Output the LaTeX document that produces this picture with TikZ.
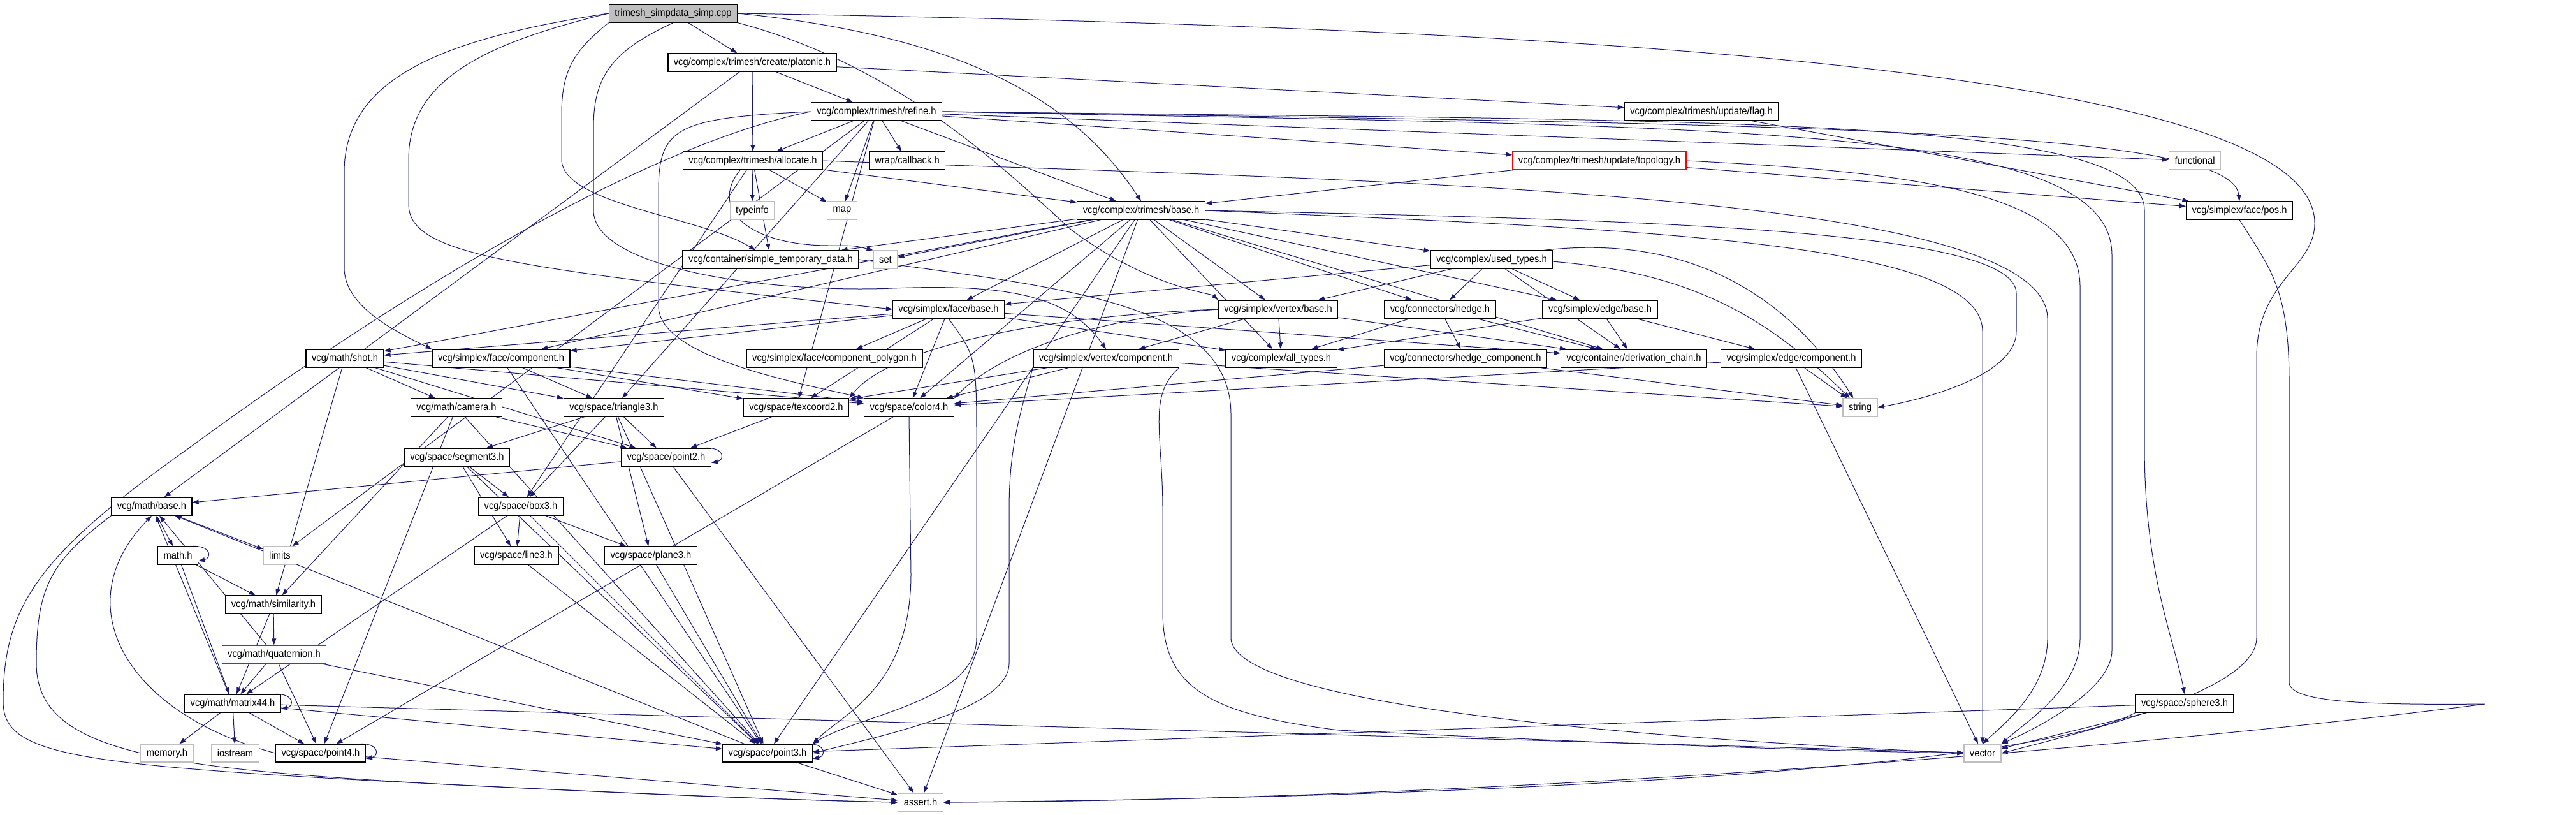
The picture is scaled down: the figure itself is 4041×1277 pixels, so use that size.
\documentclass[tikz,border=0pt]{standalone}
\usepackage{fontspec}
\newfontfamily\dotfont{Liberation Sans}[FakeStretch=0.92]
\usetikzlibrary{arrows.meta,backgrounds}
\definecolor{edgeblue}{HTML}{191970}
\definecolor{sysgray}{HTML}{BFBFBF}
\tikzset{
  hdr/.style={draw=black, line width=1.3pt, fill=white, font=\dotfont\fontsize{16}{18}\selectfont,
    minimum height=28pt, inner xsep=9pt, inner ysep=2pt},
  sys/.style={hdr, draw=sysgray},
  trunc/.style={hdr, draw=red},
  root/.style={hdr, fill=sysgray},
  incl/.style={draw=edgeblue, line width=1pt, -{Triangle[length=10pt,width=7pt]}}
}
\begin{document}
\begin{tikzpicture}[x=1pt,y=-1pt]
\useasboundingbox (0,0) rectangle (4041,1277);
% headers, one rank per row
\node[root] (cpp) at (1056,21) {trimesh\_simpdata\_simp.cpp};
\node[hdr] (platonic) at (1180,98) {vcg/complex/trimesh/create/platonic.h};
\node[hdr] (refine) at (1375,175) {vcg/complex/trimesh/refine.h};
\node[hdr] (flag) at (2669,175) {vcg/complex/trimesh/update/flag.h};
\node[hdr] (allocate) at (1181,252) {vcg/complex/trimesh/allocate.h};
\node[hdr] (callback) at (1423,252) {wrap/callback.h};
\node[trunc] (topology) at (2509,252) {vcg/complex/trimesh/update/topology.h};
\node[sys] (functional) at (3443,252) {functional};
\node[sys] (typeinfo) at (1180,330) {typeinfo};
\node[sys] (map) at (1321,330) {map};
\node[hdr] (tbase) at (1790,330) {vcg/complex/trimesh/base.h};
\node[hdr] (pos) at (3513,330) {vcg/simplex/face/pos.h};
\node[hdr] (stdata) at (1209,407) {vcg/container/simple\_temporary\_data.h};
\node[sys] (set) at (1389,407) {set};
\node[hdr] (used) at (2340,407) {vcg/complex/used\_types.h};
\node[hdr] (fbase) at (1488,485) {vcg/simplex/face/base.h};
\node[hdr] (vbase) at (2005,485) {vcg/simplex/vertex/base.h};
\node[hdr] (hedge) at (2259,485) {vcg/connectors/hedge.h};
\node[hdr] (ebase) at (2510,485) {vcg/simplex/edge/base.h};
\node[hdr] (shot) at (541,562) {vcg/math/shot.h};
\node[hdr] (fcomp) at (786,562) {vcg/simplex/face/component.h};
\node[hdr] (fpoly) at (1309,562) {vcg/simplex/face/component\_polygon.h};
\node[hdr] (vcomp) at (1735,562) {vcg/simplex/vertex/component.h};
\node[hdr] (alltypes) at (2010,562) {vcg/complex/all\_types.h};
\node[hdr] (hcomp) at (2299,562) {vcg/connectors/hedge\_component.h};
\node[hdr] (dchain) at (2563,562) {vcg/container/derivation\_chain.h};
\node[hdr] (ecomp) at (2810,562) {vcg/simplex/edge/component.h};
\node[hdr] (camera) at (716,639) {vcg/math/camera.h};
\node[hdr] (triangle) at (963,639) {vcg/space/triangle3.h};
\node[hdr] (texcoord) at (1249,639) {vcg/space/texcoord2.h};
\node[hdr] (color) at (1426,639) {vcg/space/color4.h};
\node[sys] (string) at (2918,639) {string};
\node[hdr] (segment) at (717,717) {vcg/space/segment3.h};
\node[hdr] (point2) at (1045,717) {vcg/space/point2.h};
\node[hdr] (mbase) at (238,794) {vcg/math/base.h};
\node[hdr] (box) at (817,794) {vcg/space/box3.h};
\node[hdr] (mathh) at (279,871) {math.h};
\node[sys] (limits) at (439,871) {limits};
\node[hdr] (line) at (810,871) {vcg/space/line3.h};
\node[hdr] (plane) at (1021,871) {vcg/space/plane3.h};
\node[hdr] (similarity) at (429,948) {vcg/math/similarity.h};
\node[trunc] (quaternion) at (430,1026) {vcg/math/quaternion.h};
\node[hdr] (matrix) at (365,1103) {vcg/math/matrix44.h};
\node[sys] (memory) at (262,1181) {memory.h};
\node[sys] (iostream) at (369,1181) {iostream};
\node[hdr] (point4) at (503,1181) {vcg/space/point4.h};
\node[hdr] (point3) at (1204,1181) {vcg/space/point3.h};
\node[sys] (assert) at (1444,1258) {assert.h};
\node[hdr] (sphere) at (3427,1103) {vcg/space/sphere3.h};
\node[sys] (vector) at (3110,1181) {vector};
\begin{pgfonlayer}{background}
\fill[white] (0,0) rectangle (4041,1277);
% short includes
\foreach \s/\t in {cpp/platonic,
  platonic/refine, platonic/allocate, platonic/flag, platonic/mbase,
  refine/allocate, refine/callback, refine/map, refine/tbase, refine/topology, refine/functional,
  refine/triangle, refine/texcoord, refine/limits,
  allocate/typeinfo, allocate/map, allocate/stdata, allocate/tbase, allocate/box,
  flag/pos, topology/tbase, topology/pos,
  tbase/stdata, tbase/set, tbase/used, tbase/fbase, tbase/vbase, tbase/hedge, tbase/ebase, tbase/shot,
  tbase/dchain, tbase/alltypes, tbase/color, tbase/fcomp, tbase/point3, tbase/assert,
  used/fbase, used/vbase, used/hedge, used/ebase, used/dchain,
  fbase/fcomp, fbase/fpoly, fbase/alltypes, fbase/dchain, fbase/texcoord, fbase/color, fbase/shot,
  vbase/vcomp, vbase/alltypes, vbase/dchain,
  hedge/alltypes, hedge/hcomp, hedge/dchain,
  ebase/alltypes, ebase/dchain, ebase/ecomp,
  vcomp/texcoord, vcomp/color, vcomp/string,
  hcomp/color, hcomp/string,
  ecomp/color, ecomp/string, ecomp/vector,
  fcomp/triangle, fcomp/texcoord, fcomp/color, fcomp/point3,
  shot/camera, shot/triangle, shot/similarity, shot/point2, shot/color,
  camera/similarity, camera/point2, camera/point3, camera/point4,
  triangle/segment, triangle/point2, triangle/plane, triangle/box, triangle/point3,
  texcoord/point2, color/point4,
  segment/box, segment/line, segment/point3,
  point2/mbase, point2/assert,
  box/line, box/plane, box/matrix, box/point3,
  mbase/mathh, mbase/limits,
  mathh/similarity, mathh/matrix,
  line/point3, plane/point3,
  similarity/quaternion, similarity/matrix,
  quaternion/matrix, quaternion/point4, quaternion/point3, quaternion/mbase,
  matrix/memory, matrix/iostream, matrix/point4, matrix/point3, matrix/vector, matrix/mbase,
  point4/assert, point3/mbase, point3/assert,
  sphere/point3, sphere/vector}
  \draw[incl] (\s) -- (\t);
% routed includes
\draw[incl] (cpp.east) .. controls (1550,60) and (1700,180) .. (tbase.north);
\draw[incl] (cpp.south east) .. controls (1400,100) and (1560,250) .. (1680,360) .. controls (1800,450) and (1900,460) .. (vbase.north west);
\draw[incl] (cpp.west) .. controls (700,60) and (540,120) .. (540,270) -- (540,420) .. controls (540,480) and (620,520) .. (fcomp.north west);
\draw[incl] (cpp.west) .. controls (750,70) and (641,130) .. (641,250) -- (641,320) .. controls (641,400) and (800,420) .. (fbase.west);
\draw[incl] (cpp.south west) .. controls (900,80) and (881,110) .. (881,180) -- (881,250) .. controls (881,320) and (1100,340) .. (stdata);
\draw[incl] (cpp.south) .. controls (960,80) and (931,120) .. (931,200) -- (931,330) .. controls (931,420) and (1200,460) .. (1400,452) .. controls (1600,444) and (1680,470) .. (vcomp.north);
\draw[incl] (cpp.east) .. controls (2600,45) and (3631,120) .. (3631,350) .. controls (3631,420) and (3540,440) .. (3540,560) -- (3540,1000) .. controls (3540,1080) and (3300,1140) .. (vector.east);
\draw[incl] (refine.east) .. controls (2800,195) and (3500,200) .. (pos.north);
\draw[incl] (refine.east) .. controls (2700,190) and (3364,180) .. (3364,330) -- (3364,700) .. controls (3364,900) and (3410,1000) .. (sphere.north);
\draw[incl] (refine.east) .. controls (2700,200) and (3313,190) .. (3313,400) -- (3313,1020) .. controls (3313,1080) and (3200,1140) .. (vector.north east);
\draw[incl] (refine.west) .. controls (1060,185) and (1033,200) .. (1033,300) -- (1033,480) .. controls (1033,560) and (1250,600) .. (color.north west);
\draw[incl] (refine.west) .. controls (1000,230) and (600,480) .. (300,700) .. controls (60,870) and (5,950) .. (5,1100) .. controls (5,1180) and (100,1198) .. (600,1225) .. controls (1000,1245) and (1250,1255) .. (assert.west);
\draw[incl] ([xshift=-20pt]allocate.south) .. controls (1110,330) and (1180,385) .. (1300,385) .. controls (1340,385) .. (set.north west);
\draw[incl] (allocate.east) .. controls (2200,285) and (3212,300) .. (3212,500) -- (3212,1000) .. controls (3212,1080) and (3150,1130) .. (vector.north);
\draw[incl] (topology.east) .. controls (3000,270) and (3263,300) .. (3263,450) -- (3263,1000) .. controls (3263,1080) and (3180,1130) .. (vector.north east);
\draw[incl] (pos.south) .. controls (3560,420) and (3591,450) .. (3591,600) -- (3591,1070) .. controls (3591,1100) and (3700,1106) .. (3898,1104) .. controls (3300,1180) and (2300,1255) .. (assert.east);
\draw[incl] (tbase.east) .. controls (2600,360) and (3110,380) .. (3110,520) -- (vector.north);
\draw[incl] (tbase.east) .. controls (2600,345) and (3163,360) .. (3163,460) -- (3163,520) .. controls (3163,580) and (3050,620) .. (string.east);
\draw[incl] (stdata.east) .. controls (1650,450) and (1931,470) .. (1931,650) -- (1931,1000) .. controls (1931,1090) and (2400,1150) .. (vector.west);
\draw[incl] (used) to[bend left=20] (string);
\draw[incl] (used) to[bend left=32] (string);
\draw[incl] (vbase.west) .. controls (1700,500) and (1560,560) .. (color.north east);
\draw[incl] (vbase.west) .. controls (1650,495) and (1400,540) .. (texcoord.north east);
\draw[incl] (fbase.south) .. controls (1532,560) .. (1532,700) -- (1532,1000) .. controls (1532,1100) and (1350,1120) .. (point3.north east);
\draw[incl] (vcomp.south west) .. controls (1600,650) and (1583,700) .. (1583,800) -- (1583,1040) .. controls (1583,1110) and (1400,1150) .. (point3.east);
\draw[incl] (vcomp.south east) .. controls (1800,620) and (1824,680) .. (1824,800) -- (1824,960) .. controls (1824,1080) and (1900,1120) .. (2100,1145) .. controls (2600,1170) and (2900,1178) .. (vector.west);
\draw[incl] (color.south) -- (1429,900) .. controls (1429,1080) and (1320,1120) .. (point3.north east);
\draw[incl] (mbase.south west) .. controls (80,880) and (57,920) .. (57,1040) .. controls (57,1180) and (250,1205) .. (700,1230) .. controls (1000,1245) and (1250,1255) .. (assert.west);
\draw[incl] (point4.west) .. controls (200,1120) and (100,950) .. (mbase.south);
\draw[incl] (sphere.south west) .. controls (3200,1200) and (2400,1250) .. (assert.east);
% self includes
\foreach \n in {mathh,point2,matrix,point4,point3}
  \draw[incl] ([xshift=-8pt]\n.north east) .. controls +(30pt,0pt) and +(20pt,4pt) .. ([yshift=6pt]\n.south east);
\end{pgfonlayer}
\end{tikzpicture}
\end{document}
